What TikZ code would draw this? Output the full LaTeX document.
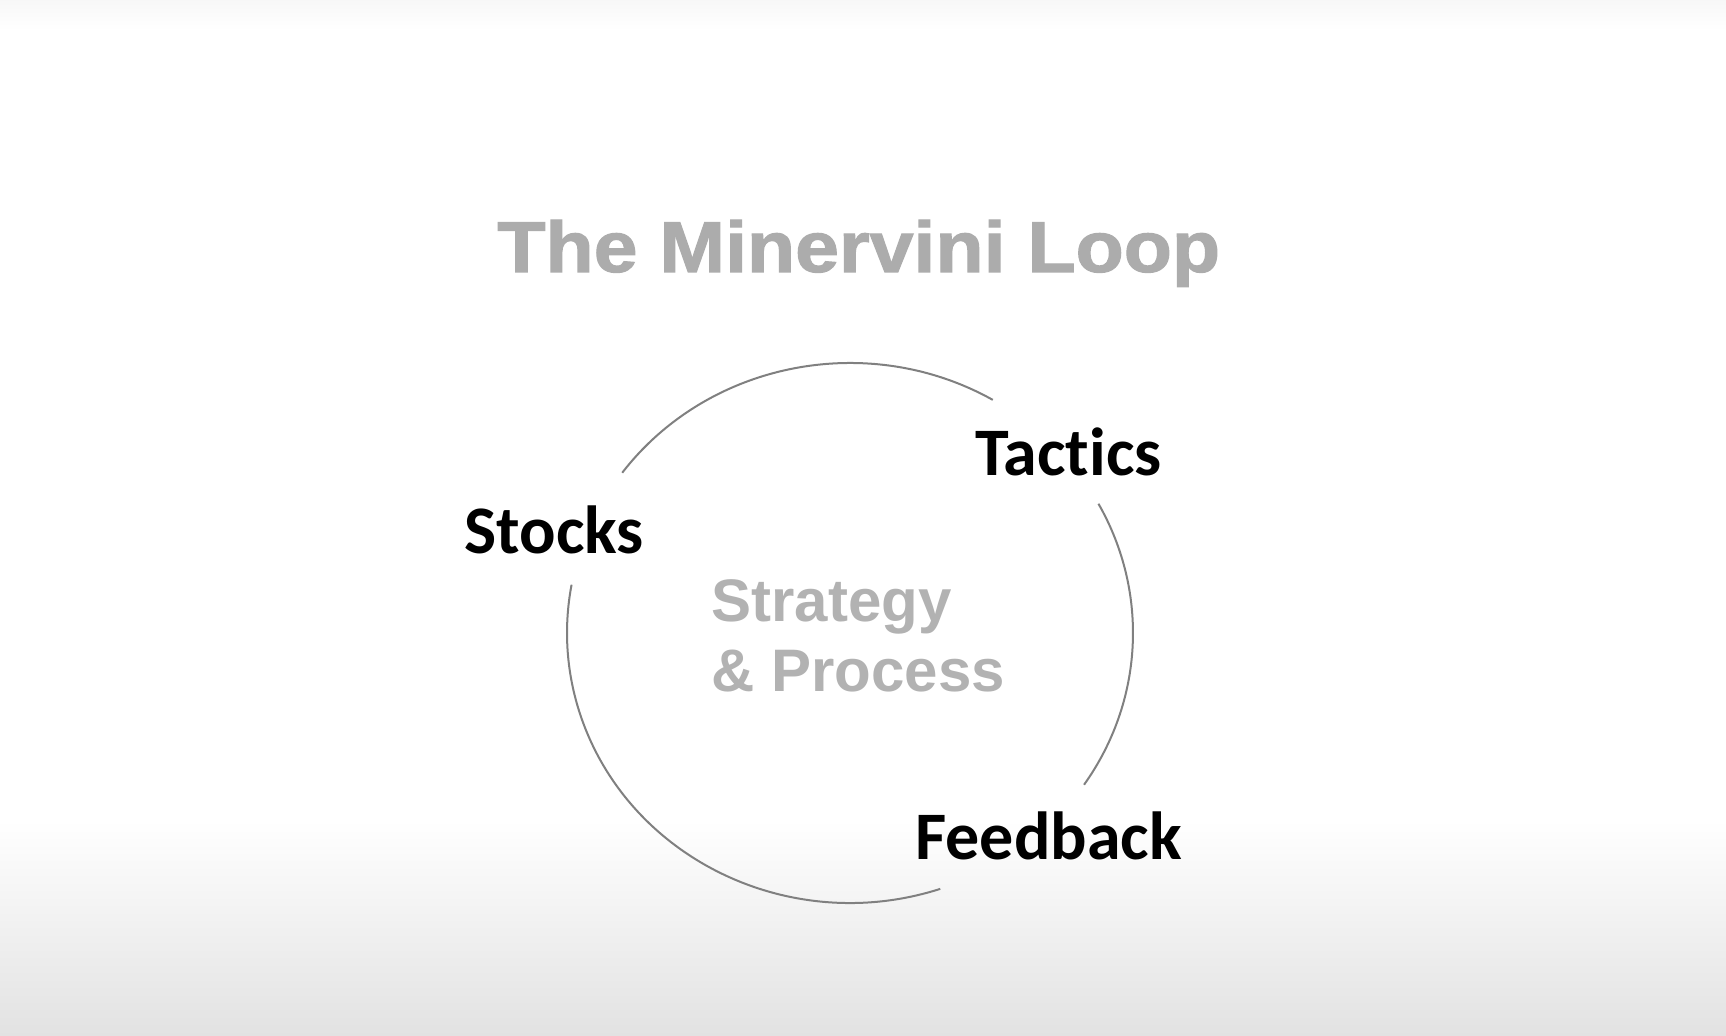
\documentclass[tikz,border=0pt]{standalone}
\usepackage{fontspec}
\setmainfont[Ligatures=NoCommon]{Carlito}
\newfontfamily\headfont{Liberation Sans}
\newfontfamily\titlefont[FakeBold=1.5]{Liberation Sans Bold}
\usetikzlibrary{calc,positioning}
\definecolor{loopgray}{RGB}{128,128,128}
\definecolor{headgray}{RGB}{172,172,172}
\definecolor{coregray}{RGB}{178,178,178}
\definecolor{floorgray}{RGB}{226,226,226}

\begin{document}
\begin{tikzpicture}[x=0.5pt,y=0.5pt,inner sep=0pt]
  \tikzstyle{stage}=[anchor=base west,font=\fontsize{34}{40}\selectfont\bfseries,text=black]
  \tikzstyle{core}=[anchor=base west,font=\headfont\fontsize{30}{36}\selectfont\bfseries,text=coregray]
  \tikzstyle{loop}=[draw=loopgray,line width=1pt]

  \useasboundingbox (0,0) rectangle (1726,1036);
  \fill[white] (0,0) rectangle (1726,1036);
  \shade[top color=white,bottom color=floorgray] (0,0) rectangle (1726,216);
  \shade[top color=black!3,bottom color=white] (0,1006) rectangle (1726,1036);

  \node[anchor=base west,text=headgray] (title) at (497,764)
    {\scalebox{1.095}[1]{\titlefont\fontsize{36}{40}\selectfont The Minervini Loop}};

  \coordinate (ctr) at (850,403);

  \node[stage] (tactics)  at (975,560) {Tactics};
  \node[stage] (stocks)   at (464,482) {Stocks};
  \node[stage] (feedback) at (915,176) {Feedback};

  \node[core] (strategy) at (711,414) {Strategy};
  \node[core] (process)  at (711,344) {\& Process};

  % the loop, broken where the labels sit
  \foreach \a/\b in {143.6/59.7, 28.6/-34.2, -71.4/-190.3}
    \draw[loop] ($(ctr)+({283*cos(\a)},{270*sin(\a)})$)
      arc[start angle=\a,end angle=\b,x radius=283,y radius=270];
\end{tikzpicture}
\end{document}
